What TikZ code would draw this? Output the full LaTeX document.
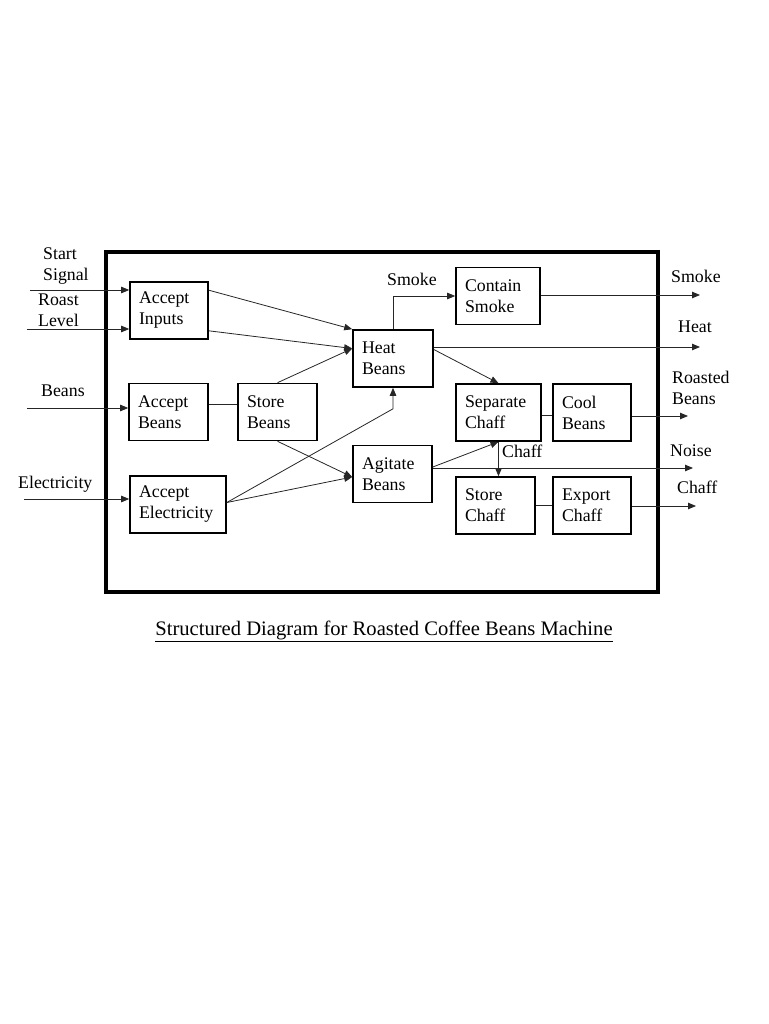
\documentclass[tikz,border=0pt]{standalone}
\usepackage{fontspec}
\setmainfont{Liberation Serif}
\usetikzlibrary{arrows.meta}

\begin{document}
\begin{tikzpicture}[x=1pt, y=-1pt, font=\fontsize{17.8}{21}\selectfont,
    box/.style={draw, line width=1.6pt, inner xsep=9pt, inner ysep=0pt, minimum height=57pt, align=left, text width=#1},
    lbl/.style={inner sep=0pt, anchor=west, align=left},
    arr/.style={draw=black!85, line width=0.8pt, -{Triangle[length=8pt, width=6.5pt]}},
    lnk/.style={draw=black!85, line width=0.8pt}]
      \useasboundingbox (0,0) rectangle (768,1024);
      \draw[line width=3.5pt] (106,252) rectangle (658,592);
      \node[box=60pt] (ainp) at (169,310.5) {Accept\\Inputs};
      \node[box=61pt] (abea) at (168.5,412) {Accept\\Beans};
      \node[box=61pt] (sbea) at (277.5,412) {Store\\Beans};
      \node[box=78pt] (aele) at (178,504.5) {Accept\\Electricity};
      \node[box=62pt] (hbea) at (393,358.5) {Heat\\Beans};
      \node[box=66pt] (csmo) at (498,296) {Contain\\Smoke};
      \node[box=67pt] (scha) at (498.5,412.5) {Separate\\Chaff};
      \node[box=60pt] (cbea) at (592,412.5) {Cool\\Beans};
      \node[box=61pt] (agit) at (392.5,474) {Agitate\\Beans};
      \node[box=61pt] (stch) at (495.5,505.5) {Store\\Chaff};
      \node[box=60pt] (exch) at (592,505.5) {Export\\Chaff};
      \coordinate (inss) at (30,290);
      \coordinate (inrl) at (27,329);
      \coordinate (inbe) at (27,408);
      \coordinate (inel) at (24,499);
      \coordinate (osmo) at (700,295);
      \coordinate (ohea) at (700,347);
      \coordinate (orbe) at (688,416);
      \coordinate (onoi) at (693,468);
      \coordinate (ocha) at (696,506);
      \node[lbl] (lss) at (43,266) {Start\\Signal};
      \node[lbl] (lrl) at (38,310.5) {Roast\\Level};
      \node[lbl] (lbe) at (41,391) {Beans};
      \node[lbl] (lel) at (18,484) {Electricity};
      \node[lbl] (lsm) at (387,279) {Smoke};
      \node[lbl] (lch) at (502,451) {Chaff};
      \node[lbl] (osm) at (671,276) {Smoke};
      \node[lbl] (ohe) at (678,327) {Heat};
      \node[lbl] (orb) at (672,388) {Roasted\\Beans};
      \node[lbl] (ono) at (670,451) {Noise};
      \node[lbl] (och) at (677,487) {Chaff};
      \draw[arr] (inss) -- (ainp.west |- inss);
      \draw[arr] (inrl) -- (ainp.west |- inrl);
      \draw[arr] (inbe) -- (abea.west |- inbe);
      \draw[arr] (inel) -- (aele.west |- inel);
      \draw[arr] ([yshift=-9pt]ainp.north east) -- (hbea.north west);
      \draw[arr] ([yshift=9pt]ainp.south east) -- ([yshift=10pt]hbea.west);
      \draw[lnk] ([yshift=8pt]abea.east) -- ([yshift=8pt]sbea.west);
      \draw[arr] (sbea.north) -- ([yshift=10pt]hbea.west);
      \draw[arr] (sbea.south) -- ([yshift=-3pt]agit.west);
      \draw[arr] ([yshift=2pt]aele.east) -- ([yshift=-3pt]agit.west);
      \draw[arr] ([yshift=2pt]aele.east) -- ([yshift=-21pt]hbea.south) -- (hbea.south);
      \draw[arr] (hbea.north) |- (csmo.west);
      \draw[arr] (csmo.east |- osmo) -- (osmo);
      \draw[arr] (hbea.east |- ohea) -- (ohea);
      \draw[arr] ([yshift=9pt]hbea.east) -- (scha.north);
      \draw[lnk] ([yshift=-3pt]scha.east) -- ([yshift=-3pt]cbea.west);
      \draw[arr] (cbea.east |- orbe) -- (orbe);
      \draw[arr] ([yshift=7pt]agit.east) -- (scha.south);
      \draw[arr] (agit.east |- onoi) -- (onoi);
      \draw[arr] (scha.south) -- (scha.south |- stch.north);
      \draw[lnk] (stch.east) -- (exch.west);
      \draw[arr] (exch.east |- ocha) -- (ocha);
      \node[anchor=base, inner sep=0pt, font=\fontsize{20.6}{24}\selectfont] (capt) at (384,635) {\underline{Structured Diagram for Roasted Coffee Beans Machine}};
    \end{tikzpicture}
\end{document}
